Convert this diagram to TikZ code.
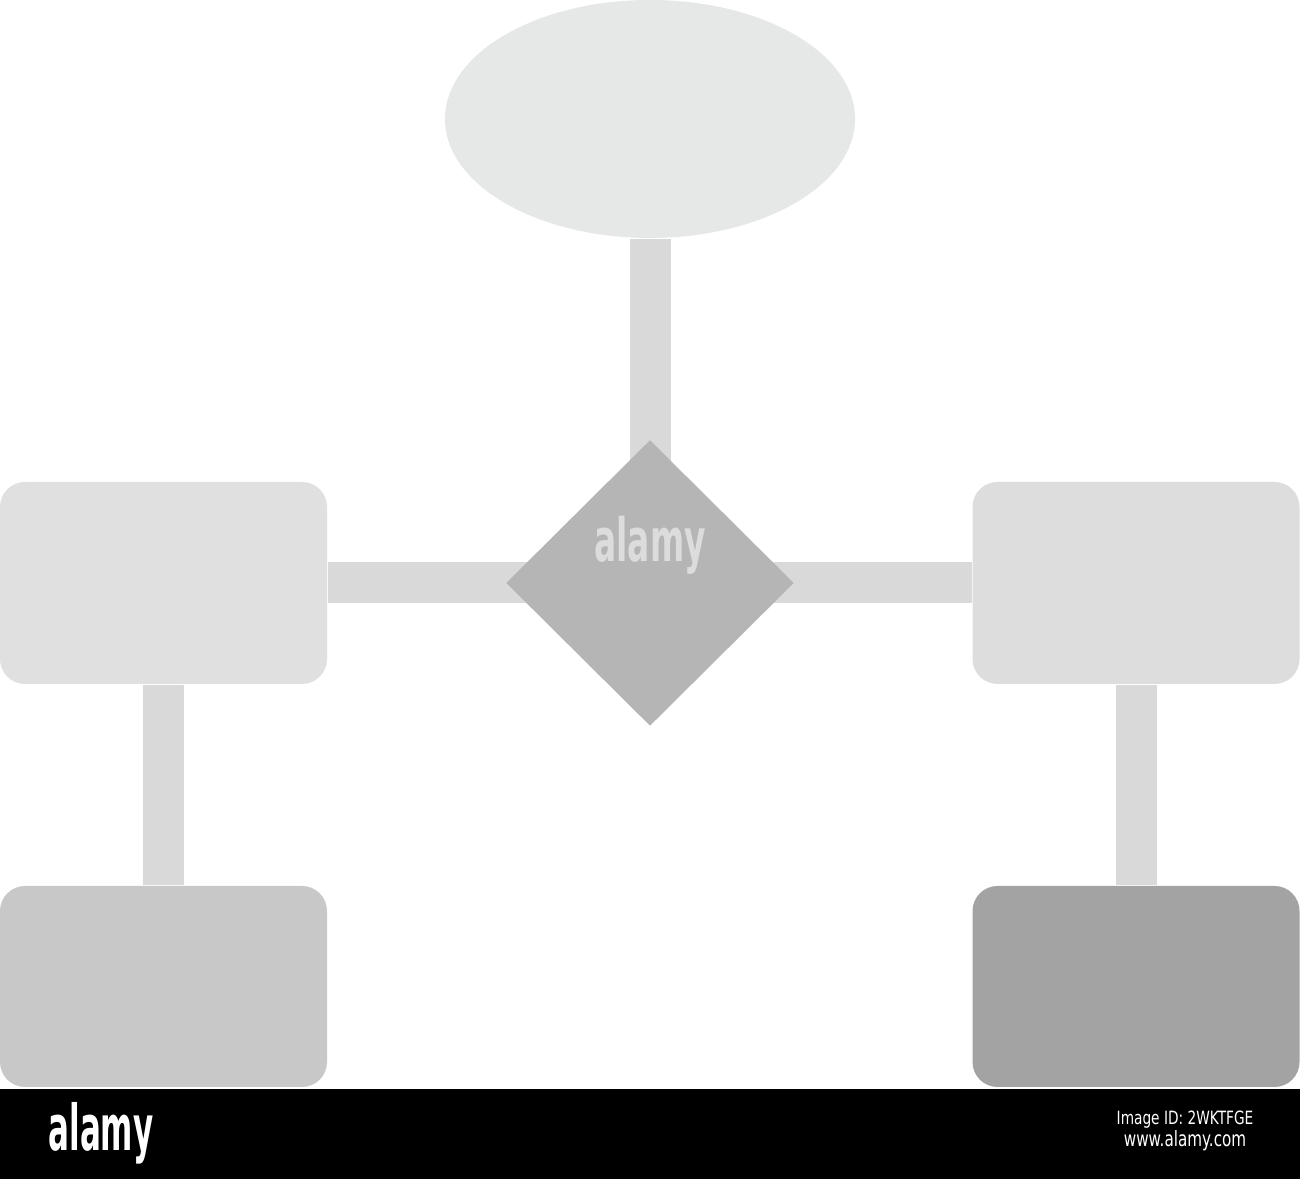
\documentclass[tikz,border=0pt]{standalone}
\usepackage{fontspec}
\setmainfont{DejaVu Sans}
\usetikzlibrary{shapes.geometric,backgrounds}
\definecolor{conn}{HTML}{D9D9D9}
\definecolor{ellc}{HTML}{E6E7E7}
\definecolor{diac}{HTML}{B5B5B5}
\definecolor{boxa}{HTML}{E0E0E0}
\definecolor{boxb}{HTML}{DDDDDD}
\definecolor{boxc}{HTML}{C8C8C8}
\definecolor{boxd}{HTML}{A3A3A3}
\definecolor{wmark}{HTML}{DCDCDC}
\tikzset{
  flowbox/.style={rectangle,rounded corners=0.25cm,draw=none,inner sep=0pt,minimum width=3.27cm,minimum height=2.02cm},
  link/.style={conn,line width=0.41cm},
}
\begin{document}
\begin{tikzpicture}
\useasboundingbox (0,0) rectangle (13,11.79);
\node[ellipse,fill=ellc,inner sep=0pt,minimum width=4.1cm,minimum height=2.38cm] (start) at (6.5,10.60) {};
\node[diamond,fill=diac,inner sep=0pt,minimum width=2.88cm,minimum height=2.86cm] (dec) at (6.5,5.96) {};
\node[flowbox,fill=boxa] (tl) at (1.635,5.96) {};
\node[flowbox,fill=boxb] (tr) at (11.36,5.96) {};
\node[flowbox,fill=boxc,minimum height=2.01cm] (bl) at (1.635,1.925) {};
\node[flowbox,fill=boxd,minimum height=2.01cm] (br) at (11.36,1.925) {};
\begin{scope}[on background layer]
\fill[white] (0,0) rectangle (13,11.79);
\draw[link] (start.south) -- (dec.center);
\draw[link] (tl.east) -- (tr.west);
\draw[link] (tl.south -| 1.635,0) -- (bl.north -| 1.635,0);
\draw[link] (tr.south -| 11.365,0) -- (br.north -| 11.365,0);
\end{scope}
\node[text=wmark,font=\bfseries\fontsize{17}{17}\selectfont,inner sep=0pt] (wm) at (6.5,6.34) {\scalebox{0.55}[1]{alamy}};
\fill[black] (0,0) rectangle (13,0.90);
\node[text=white,font=\bfseries\fontsize{18}{18}\selectfont,inner sep=0pt] (logo) at (1.01,0.46) {\scalebox{0.49}[1]{alamy}};
\node[text=white,font=\fontsize{5.2}{5.2}\selectfont,inner sep=0pt] (imgid) at (11.85,0.59) {\scalebox{0.75}[1]{Image ID: 2WKTFGE}};
\node[text=white,font=\fontsize{6}{6}\selectfont,inner sep=0pt] (url) at (11.85,0.38) {\scalebox{0.72}[1]{www.alamy.com}};
\end{tikzpicture}
\end{document}
